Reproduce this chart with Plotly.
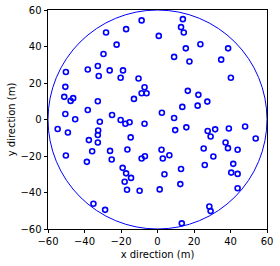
import plotly.graph_objects as go

x_pos = [-8.7, -17.2, -28.2, 0.7, -22.4, -29.6, -38.2, -32.7, -26.2, -18.9,
         -50.2, -32.2, -20.2, -10.4, -50.5, -7.1, -8.7, -6.0, -51.1, -46.2,
         -47.6, -12.9, -32.7, -50.5, -38.2, -45.1, -24.9, -31.6, -20.2, -17.6,
         -15.3, -7.1,
         -54.7, -49.1, -32.5, -32.7, -37.6, -32.7, -14.7, -35.8, -26.0, -16.5,
         -50.2, -25.1, -38.7, -8.7, -6.9, -19.1, -17.2, -14.5, -18.0, -16.7,
         -9.8, 1.2, -35.1, -28.7,
         13.9, 12.9, 14.4, 23.5, 15.5, 38.7, 9.1, 17.5, 34.9, 40.2,
         16.6, 22.4, 27.3, 22.0, 13.6, 2.4, 9.1,
         9.7, 15.8, 27.5, 31.6, 39.1, 48.0, 29.1, 53.8, 37.3, 2.2,
         25.3, 38.6, 43.9, 6.5, 2.9, 30.6, 25.9, 41.5, 12.9, 40.4,
         43.9, 3.8, 12.5, 43.9, 28.4, 29.1, 13.3]
y_pos = [54.3, 49.5, 47.7, 45.8, 41.0, 35.9, 27.4, 29.3, 26.9, 26.9,
         26.0, 23.8, 22.9, 22.5, 17.9, 17.7, 14.4, 14.4, 12.4, 11.7,
         10.2, 11.3, 10.0, 3.0, 5.2, 0.1, 2.5, -1.2, -0.3, -2.3,
         -1.5, -2.3,
         -5.2, -7.1, -6.0, -8.5, -11.3, -12.6, -9.8, -17.4, -17.2, -16.4,
         -19.7, -21.9, -23.2, -21.4, -20.1, -26.5, -29.5, -32.0, -34.1, -38.5,
         -39.0, -38.3, -46.2, -49.5,
         55.0, 50.6, 47.7, 41.2, 39.0, 39.0, 34.3, 31.8, 32.8, 22.9,
         15.7, 13.5, 9.8, 7.6, 6.9, 3.7, 0.8,
         -5.8, -4.3, -6.3, -5.4, -4.9, -3.8, -9.3, -10.4, -12.6, -16.6,
         -15.9, -15.7, -16.6, -19.6, -21.4, -20.3, -24.9, -24.3, -27.1, -29.1,
         -29.8, -30.0, -35.4, -37.7, -47.7, -50.2, -56.9]

radius = 60
tick_vals = [-60, -40, -20, 0, 20, 40, 60]

fig = go.Figure()
fig.add_trace(go.Scatter(
    x=x_pos, y=y_pos, mode="markers",
    marker=dict(symbol="circle-open", size=5, color="blue", line=dict(width=1.6, color="blue")),
    showlegend=False,
))
fig.add_shape(type="circle", xref="x", yref="y",
              x0=-radius, y0=-radius, x1=radius, y1=radius,
              line=dict(color="blue", width=1))

axis_common = dict(
    range=[-60, 60], tickvals=tick_vals, ticks="outside", ticklen=3.5, tickwidth=0.8,
    tickcolor="black", showline=True, linecolor="black", linewidth=0.8, mirror=True,
    showgrid=False, zeroline=False, tickfont=dict(size=10, color="black"),
    automargin=False,
)
fig.update_xaxes(**axis_common, title=dict(text="x direction (m)", font=dict(size=10, color="black"), standoff=4))
fig.update_yaxes(**axis_common, title=dict(text="y direction (m)", font=dict(size=10, color="black"), standoff=2))

fig.update_layout(
    width=280, height=266,
    margin=dict(l=48, r=13, t=10, b=37),
    plot_bgcolor="white", paper_bgcolor="white",
    font=dict(family="DejaVu Sans", size=10, color="black"),
)
fig.write_html("out.html")
